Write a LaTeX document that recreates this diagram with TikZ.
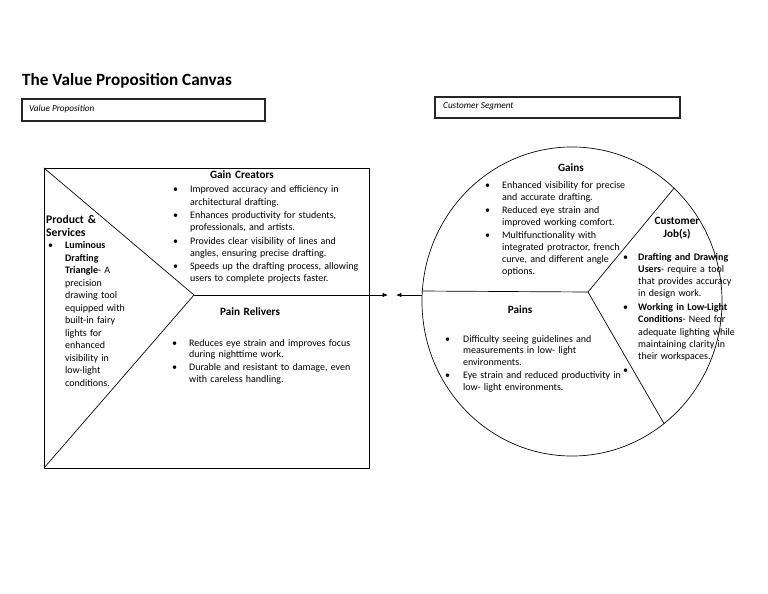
\documentclass[tikz,border=0pt]{standalone}
\usepackage{fontspec}
\setmainfont{Carlito}
\usetikzlibrary{arrows.meta,shapes.geometric}

% bullet paragraph with hanging text
\newcommand{\bitem}[2][17.5pt]{\noindent\hangindent=#1\hangafter=1%
  \makebox[#1][l]{\textbullet}#2\par}
\newcommand{\listsize}[1][12.2pt]{\fontsize{10.3}{#1}\selectfont\setlength{\parskip}{1.3pt}\raggedright}

\begin{document}
\begin{tikzpicture}[x=1.03125pt,y=-1.03125pt,
canvas line/.style={draw=black,line width=0.7pt},
label box/.style={draw=black!85,line width=1.1pt},
box label/.style={anchor=base west,inner sep=0pt,font=\fontsize{9.5}{11}\selectfont\itshape},
block head/.style={anchor=base,inner sep=0pt,text width=#1,align=center,font=\fontsize{11.5}{13}\selectfont\bfseries},
block list/.style={anchor=base west,inner sep=0pt,text width=#1},
link/.style={-{Latex[length=5.5pt,width=4.5pt]},line width=0.7pt},
]
\useasboundingbox (0,0) rectangle (768,594);

\node[anchor=base west,inner sep=0pt,font=\fontsize{17.7}{21}\selectfont\bfseries] (title) at (22,86) {The Value Proposition Canvas};

% label boxes
\draw[label box] (22,99) rectangle (265,121);
\node[box label] (vplabel) at (29,112) {Value Proposition};
\draw[label box] (435,97) rectangle (680,118);
\node[box label] (cslabel) at (443,109) {Customer Segment};

% value proposition square
\coordinate (rtop) at (44,168);
\coordinate (rbot) at (44,468);
\coordinate (apex) at (194,295);
\coordinate (rmid) at (369,295);
\coordinate (vpend) at (388,295);
\draw[canvas line] (rtop) rectangle (369,468);
\draw[canvas line] (rtop) -- (apex) -- (rbot);
\draw[canvas line] (apex) -- (rmid);
\draw[link] (rmid) -- (vpend);

% customer circle
\node[ellipse,draw=black,line width=0.7pt,inner sep=0pt,minimum width=309.4pt,minimum height=318.7pt] (seg) at (572,301.5) {};
\coordinate (hub) at (588,292);
\coordinate (csend) at (396,295);
\draw[canvas line] (seg.176) -- (hub) -- (seg.48);
\draw[canvas line] (hub) -- (seg.-53);
\draw[link] (seg.west |- rmid) -- (csend);

% gain creators
\node[block head=120pt] (gch) at (242,179) {Gain Creators};
\node[block list=210pt] (gcl) at (173,193) {\listsize[12.5pt]%
\bitem{Improved accuracy and efficiency in\newline architectural drafting.}
\bitem{Enhances productivity for students,\newline professionals, and artists.}
\bitem{Provides clear visibility of lines and\newline angles, ensuring precise drafting.}
\bitem{Speeds up the drafting process, allowing\newline users to complete projects faster.}};

% products and services
\node[block list=80pt,font=\fontsize{12}{13}\selectfont\bfseries] (psh) at (46,224) {Product \&\newline Services};
\node[block list=130pt] (psl) at (48,249) {\listsize[12.85pt]%
\bitem{\textbf{Luminous\newline Drafting\newline Triangle}- A\newline precision\newline drawing tool\newline equipped with\newline built-in fairy\newline lights for\newline enhanced\newline visibility in\newline low-light\newline conditions.}};

% pain relievers
\node[block head=120pt] (prh) at (250,315) {Pain Relivers};
\node[block list=210pt] (prl) at (172,346) {\listsize
\bitem{Reduces eye strain and improves focus\newline during nighttime work.}
\bitem{Durable and resistant to damage, even\newline with careless handling.}};

% gains
\node[block head=100pt] (gnh) at (571,172) {Gains};
\node[block list=170pt] (gnl) at (485,189) {\listsize
\bitem{Enhanced visibility for precise\newline and accurate drafting.}
\bitem{Reduced eye strain and\newline improved working comfort.}
\bitem{Multifunctionality with\newline integrated protractor, french\newline curve, and different angle\newline options.}};

% customer jobs
\node[block head=70pt] (cjh) at (677,225) {Customer\\Job(s)};
\node[block list=130pt] (cjl) at (623,260) {\listsize[12.7pt]%
\bitem[15.5pt]{\textbf{Drafting and Drawing\newline Users}- require a tool\newline that provides accuracy\newline in design work.}
\bitem[15.5pt]{\textbf{Working in Low-Light\newline Conditions}- Need for\newline adequate lighting while\newline maintaining clarity in\newline their workspaces.}
\bitem[15.5pt]{}};

% pains
\node[block head=100pt] (pnh) at (520,313) {Pains};
\node[block list=200pt] (pnl) at (445,342) {\listsize
\bitem[18.5pt]{Difficulty seeing guidelines and\newline measurements in low- light\newline environments.}
\bitem[18.5pt]{Eye strain and reduced productivity in\newline low- light environments.}};
\end{tikzpicture}
\end{document}
